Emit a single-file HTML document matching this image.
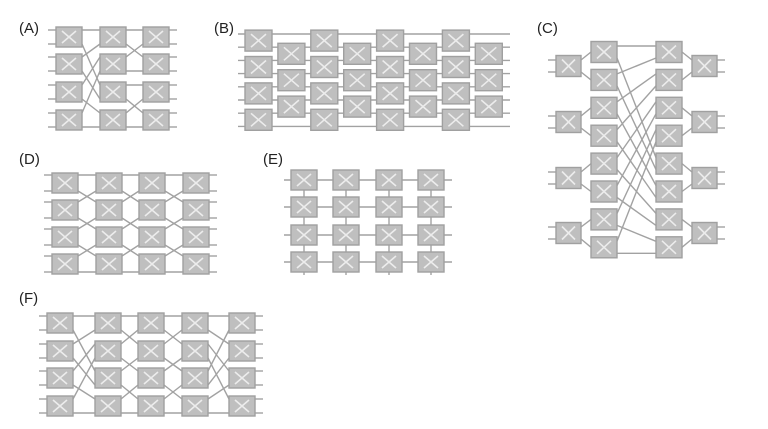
<!DOCTYPE html>
<html><head><meta charset="utf-8">
<style>
html,body{margin:0;padding:0;background:#fff;}
svg{display:block;}
text{font-family:"Liberation Sans",sans-serif;font-size:15px;fill:#222;}
</style></head>
<body>
<svg id="s" width="768" height="429" viewBox="0 0 768 429" xmlns="http://www.w3.org/2000/svg">
<text x="19" y="33">(A)</text>
<text x="214" y="33">(B)</text>
<text x="537" y="33">(C)</text>
<text x="19" y="164">(D)</text>
<text x="263" y="164">(E)</text>
<text x="19" y="303">(F)</text>
<g id="L" stroke="#a2a2a2" stroke-width="1.4" fill="none"></g>
<g id="B"></g>
</svg>
<script>
var NS="http://www.w3.org/2000/svg",Lg=document.getElementById('L'),Bg=document.getElementById('B');
function ln(x1,y1,x2,y2){var e=document.createElementNS(NS,'line');e.setAttribute('x1',x1);e.setAttribute('y1',y1);e.setAttribute('x2',x2);e.setAttribute('y2',y2);Lg.appendChild(e);}
function box(x,cy,w,h){w=w||26;h=h||20;var y=cy-h/2;
 var r=document.createElementNS(NS,'rect');r.setAttribute('x',x);r.setAttribute('y',y);r.setAttribute('width',w);r.setAttribute('height',h);r.setAttribute('fill','#bfbfbf');r.setAttribute('stroke','#a0a0a0');r.setAttribute('stroke-width','1.4');Bg.appendChild(r);
 var p=document.createElementNS(NS,'path');var a=x+6,b=x+w-6,t=y+4,u=y+h-4,m=x+w/2;
 p.setAttribute('d','M'+a+' '+t+'Q'+m+' '+(cy)+' '+b+' '+u+'M'+a+' '+u+'Q'+m+' '+cy+' '+b+' '+t);
 p.setAttribute('stroke','#ececec');p.setAttribute('stroke-width','1.6');p.setAttribute('fill','none');Bg.appendChild(p);}
function ports(cys,o){var r=[];cys.forEach(function(c){r.push(c-o,c+o);});return r;}
function conn(x1,p1,x2,p2,perm){for(var i=0;i<p1.length;i++)ln(x1,p1[i],x2,p2[perm(i)]);}
function stubs(x,ps,d){ps.forEach(function(y){ln(x,y,x+d,y);});}
var W=26;
// (A)
(function(){var xs=[56,100,143],ys=[37,64,92,120],P=ports(ys,7);
 stubs(56,P,-8);stubs(143+W,P,8);
 conn(56+W,P,100,P,function(p){var b=p>>1,s=p&1;return s*4+b;});
 conn(100+W,P,143,P,function(p){var m=p%4;return p-m+[0,2,1,3][m];});
 xs.forEach(function(x){ys.forEach(function(y){box(x,y);});});})();
// (B)
(function(){var ly=[];for(var k=0;k<8;k++)ly.push(34+13.2*k);
 ly.forEach(function(y){ln(238,y,510,y);});
 for(var c=0;c<8;c++){var x=245+32.9*c;
  if(c%2==0){for(var i=0;i<4;i++)box(x,(ly[2*i]+ly[2*i+1])/2,27,21);}
  else{for(var i=0;i<3;i++)box(x,(ly[2*i+1]+ly[2*i+2])/2,27,21);}}})();
// (C)
(function(){var oy=[66,122,178,233],iy=[];for(var i=0;i<8;i++)iy.push(52+27.9*i);
 var Po=ports(oy,6),Pi=ports(iy,6);
 stubs(556,Po,-8);stubs(692+25,Po,8);
 for(var k=0;k<4;k++){for(var s=0;s<2;s++){ln(581,Po[2*k+s],591,iy[2*k+s]);ln(692,Po[2*k+s],682,iy[2*k+s]);}}
 conn(617,Pi,656,Pi,function(p){var b=p>>1,s=p&1;return s*8+b;});
 oy.forEach(function(y){box(556,y,25,21);box(692,y,25,21);});
 iy.forEach(function(y){box(591,y,26,21);box(656,y,26,21);});})();
// (D)
(function(){var xs=[52,96,139,183],ys=[183,210,237,264],P=ports(ys,8);
 stubs(52,P,-8);stubs(183+W,P,8);
 for(var c=0;c<3;c++){conn(xs[c]+W,P,xs[c+1],P,function(p){if(p==0||p==7)return p;return (p&1)?p+1:p-1;});}
 xs.forEach(function(x){ys.forEach(function(y){box(x,y);});});})();
// (E)
(function(){var xs=[291,333,376,418],ys=[180,207,235,262];
 ys.forEach(function(y){ln(284,y,452,y);});
 xs.forEach(function(x){ln(x+13,172,x+13,275);});
 xs.forEach(function(x){ys.forEach(function(y){box(x,y);});});})();
// (F)
(function(){var xs=[47,95,138,182,229],ys=[323,351,378,406],P=ports(ys,7);
 stubs(47,P,-8);stubs(229+W,P,8);
 var sh=function(p){var b=p>>1,s=p&1;return s*4+b;};
 var inv=function(q){var s=q>>2,b=q&3;return b*2+s;};
 var bf2=function(p){if(p==0||p==7)return p;return (p&1)?p+1:p-1;};
 conn(73,P,95,P,sh);conn(121,P,138,P,bf2);conn(164,P,182,P,bf2);conn(208,P,229,P,inv);
 xs.forEach(function(x){ys.forEach(function(y){box(x,y);});});})();
</script>
</body></html>
